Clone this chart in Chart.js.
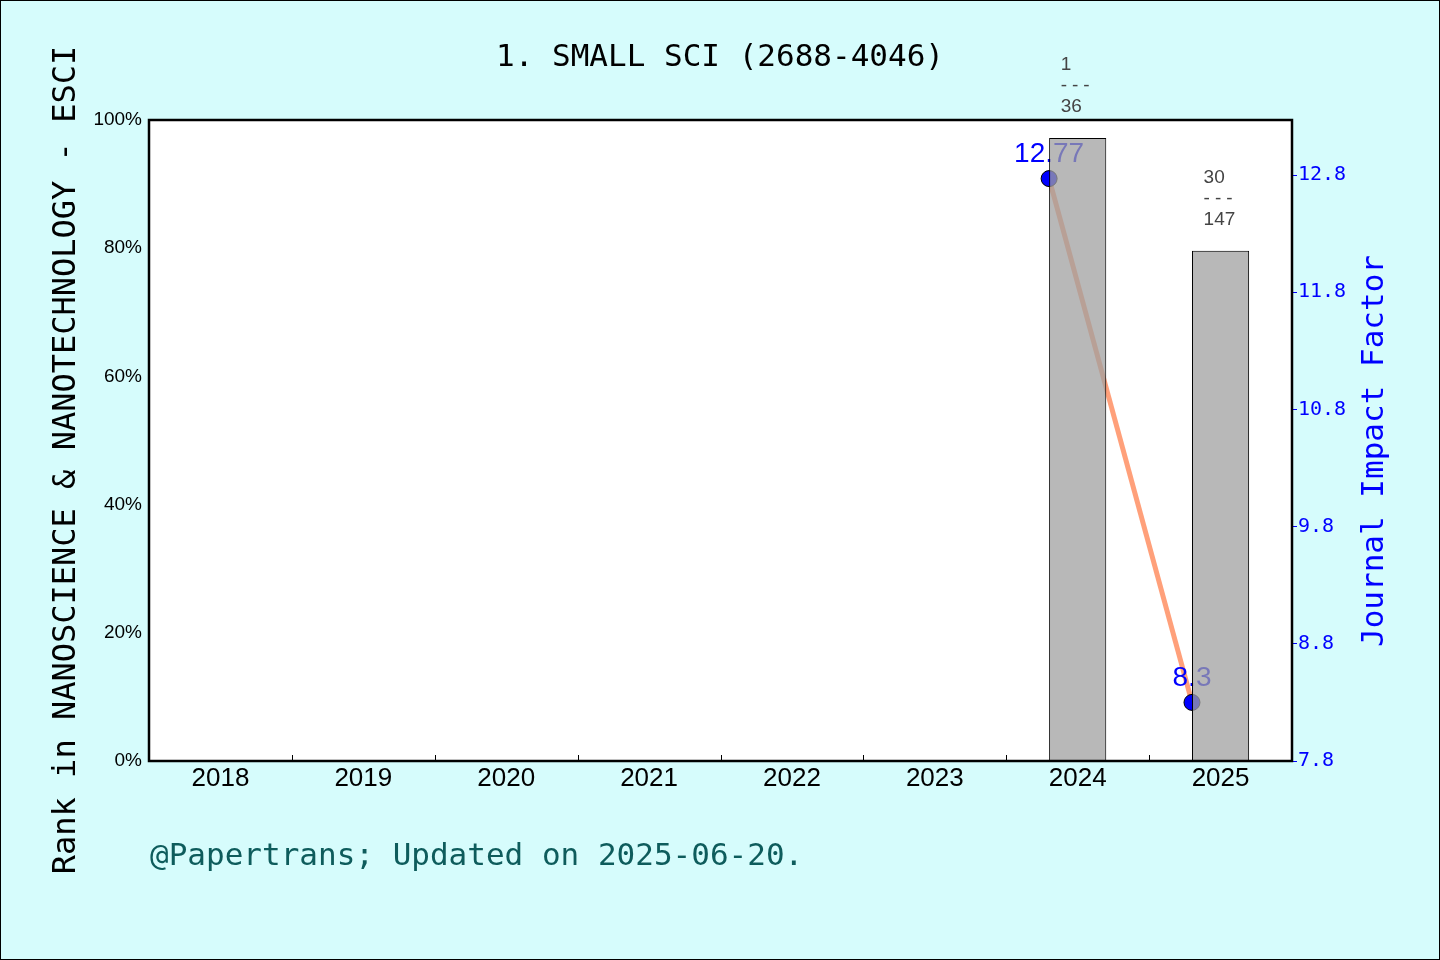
<!DOCTYPE html>
<html><head><meta charset="utf-8">
<script src="https://cdn.jsdelivr.net/npm/chart.js@4/dist/chart.umd.min.js"></script>
<style>html,body{margin:0;padding:0;background:#d6fcfc;} canvas{display:block}</style>
</head><body>
<canvas id="c" width="1440" height="960"></canvas>
<script>
const titleText = '1. SMALL SCI (2688-4046)';
const footerText = '@Papertrans; Updated on 2025-06-20.';
const leftAxisTitle = 'Rank in NANOSCIENCE & NANOTECHNOLOGY - ESCI';
const rightAxisTitle = 'Journal Impact Factor';
const years = ['2018','2019','2020','2021','2022','2023','2024','2025'];
const rankPercent = [null,null,null,null,null,null,97.2,79.6];
const rankPosition = [null,null,null,null,null,null,1,30];
const rankTotal = [null,null,null,null,null,null,36,147];
const impactFactor = [null,null,null,null,null,null,12.77,8.3];
const leftTicks = [0,20,40,60,80,100];
const rightTicks = [7.8,8.8,9.8,10.8,11.8,12.8];

const BAR_W = 0.4;
const linePoints = [];
impactFactor.forEach((v,i)=>{ if(v!==null) linePoints.push({x:i - BAR_W/2, y:v}); });

const MONO = '"DejaVu Sans Mono", "Liberation Mono", monospace';
const SANS = '"Liberation Sans", Arial, sans-serif';

const decor = {
  id:'decor',
  beforeDraw(chart){
    const c = chart.ctx, a = chart.chartArea;
    c.save();
    c.fillStyle = '#d6fcfc'; c.fillRect(0,0,chart.width,chart.height);
    c.strokeStyle = '#000'; c.lineWidth = 1; c.strokeRect(0.5,0.5,chart.width-1,chart.height-1);
    c.fillStyle = '#fff'; c.fillRect(a.left,a.top,a.right-a.left,a.bottom-a.top);
    c.restore();
  },
  beforeDatasetDraw(chart,args){
    if(args.index!==0) return;
    const c = chart.ctx;
    const meta = chart.getDatasetMeta(1);
    c.save();
    c.font = '28px ' + SANS; c.fillStyle = '#0000ff'; c.textAlign='center'; c.textBaseline='middle';
    meta.data.forEach((pt,i)=>{ c.fillText(String(linePoints[i].y), pt.x, pt.y - 24); });
    c.restore();
  },
  afterDraw(chart){
    const c = chart.ctx, a = chart.chartArea;
    c.save();
    c.strokeStyle='#000'; c.lineWidth=2.5;
    c.strokeRect(a.left, a.top, a.right-a.left, a.bottom-a.top);
    const xs = chart.scales.x;
    c.lineWidth=1;
    for(let i=1;i<years.length;i++){
      const px = Math.round((xs.getPixelForTick(i-1)+xs.getPixelForTick(i))/2)+0.5;
      c.beginPath(); c.moveTo(px,a.bottom); c.lineTo(px,a.bottom-6); c.stroke();
    }
    const meta = chart.getDatasetMeta(0);
    c.font = '19px ' + SANS; c.fillStyle='#444'; c.textAlign='left'; c.textBaseline='middle';
    meta.data.forEach((bar,i)=>{
      if(rankPercent[i]===null) return;
      const lines = [String(rankPosition[i]), '---', String(rankTotal[i])];
      const widths = lines.map((t,k)=>{ c.letterSpacing = k===1?'5px':'0px'; return c.measureText(t).width; });
      const maxW = Math.max(...widths);
      const left = bar.x - maxW/2;
      lines.forEach((t,k)=>{
        c.letterSpacing = k===1?'5px':'0px';
        c.fillText(t, left, bar.y - 31 - (2-k)*21);
      });
      c.letterSpacing='0px';
    });
    c.fillStyle='#000'; c.textAlign='center'; c.textBaseline='middle';
    c.font = '31px ' + MONO;
    c.fillText(titleText, 720, 58);
    c.font = '32px ' + MONO;
    c.save(); c.translate(67,460); c.rotate(-Math.PI/2); c.fillText(leftAxisTitle,0,0); c.restore();
    c.font = '31px ' + MONO;
    c.fillStyle='#0000ff';
    c.save(); c.translate(1375,451); c.rotate(-Math.PI/2); c.fillText(rightAxisTitle,0,0); c.restore();
    c.fillStyle='#0e5c5c'; c.textAlign='left';
    c.fillText(footerText, 150, 857);
    c.restore();
  }
};

new Chart(document.getElementById('c'), {
  data:{
    labels: years,
    datasets:[
      { type:'bar', data: rankPercent, xAxisID:'x', yAxisID:'y', order:0, grouped:false,
        backgroundColor:'rgba(160,160,160,0.75)', borderColor:'#000', borderWidth:1,
        barPercentage: BAR_W, categoryPercentage:1 },
      { type:'line', data: linePoints, xAxisID:'xl', yAxisID:'yr', order:1,
        borderColor:'rgb(255,160,122)', borderWidth:5, pointRadius:8,
        pointBackgroundColor:'#0000ff', pointBorderColor:'#000', pointBorderWidth:1, fill:false, tension:0 }
    ]
  },
  options:{
    responsive:false, animation:false, devicePixelRatio:1,
    layout:{ padding:{ top:120, left:0, right:0, bottom:0 } },
    plugins:{ legend:{display:false}, tooltip:{enabled:false}, title:{display:false} },
    scales:{
      x:{ type:'category', offset:true, position:'bottom',
        grid:{display:false, drawTicks:false}, border:{display:false},
        ticks:{ color:'#000', font:{family:SANS, size:26}, padding:2, maxRotation:0 },
        afterFit(s){ s.height = 199; } },
      xl:{ type:'linear', display:false, min:-0.5, max:years.length-0.5 },
      y:{ position:'left', min:0, max:100,
        grid:{display:false, drawTicks:false}, border:{display:false},
        ticks:{ stepSize:20, color:'#000', font:{family:SANS, size:19}, padding:7, callback:v=>v+'%' },
        afterBuildTicks(s){ s.ticks = leftTicks.map(v=>({value:v})); },
        afterFit(s){ s.width = 149; } },
      yr:{ position:'right', min:7.8, max:13.27,
        grid:{display:true, drawOnChartArea:false, drawTicks:true, tickLength:5, color:'#0000ff'},
        border:{display:false},
        ticks:{ color:'#0000ff', font:{family:MONO, size:20}, padding:1, callback:v=>v.toFixed(1) },
        afterBuildTicks(s){ s.ticks = rightTicks.map(v=>({value:v})); },
        afterFit(s){ s.width = 148; } }
    }
  },
  plugins:[decor]
});
</script>
</body></html>
